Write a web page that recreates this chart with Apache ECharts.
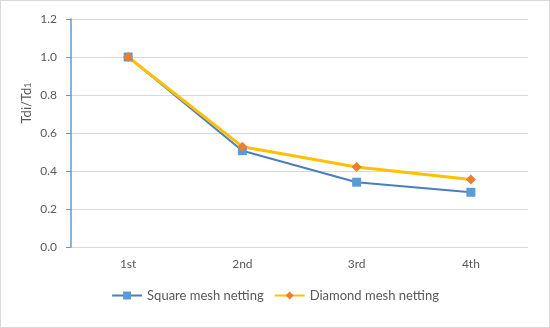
<!DOCTYPE html>
<html><head><meta charset="utf-8">
<script src="https://cdn.jsdelivr.net/npm/echarts@6/dist/echarts.min.js"></script>
<style>html,body{margin:0;padding:0;background:#fff}#c{width:548px;height:326px;border:1px solid #d9d9d9}</style>
</head><body><div id="c"></div>
<script>
const categories = ['1st', '2nd', '3rd', '4th'];
const squareMesh = [1.0, 0.507, 0.341, 0.288];
const diamondMesh = [1.0, 0.528, 0.421, 0.355];
const yTicks = [0, 0.2, 0.4, 0.6, 0.8, 1.0, 1.2];

const F = 'Lato';
const chart = echarts.init(document.getElementById('c'));
chart.setOption({
  animation: false,
  grid: { left: 70, right: 21, top: 18, bottom: 80 },
  legend: {
    bottom: 20, left: 'center', itemWidth: 30, itemHeight: 10, itemGap: 10,
    textStyle: { color: '#595959', fontSize: 13, fontFamily: F },
    data: ['Square mesh netting', 'Diamond mesh netting']
  },
  xAxis: {
    type: 'category', data: categories, boundaryGap: true,
    axisLine: { show: false }, axisTick: { show: false },
    axisLabel: { color: '#595959', fontSize: 12, fontFamily: F, margin: 11 }
  },
  yAxis: {
    type: 'value', min: yTicks[0], max: yTicks[yTicks.length - 1], interval: 0.2,
    name: '{a|Tdi/Td}{s|1}', nameLocation: 'middle', nameGap: 38, nameRotate: 90,
    nameMoveOverlap: false,
    nameTextStyle: { padding: [0, 0, 0, 60], rich: { a: { color: '#595959', fontSize: 13, fontFamily: F }, s: { color: '#595959', fontSize: 9, fontFamily: F, padding: [0, 0, -4, 0] } } },
    axisLine: { show: true, lineStyle: { color: '#5B9BD5', width: 1.5 } },
    axisTick: { show: true, length: 5, lineStyle: { color: '#5B9BD5' } },
    axisLabel: { color: '#595959', fontSize: 12, fontFamily: F, margin: 14, formatter: v => v.toFixed(1) },
    splitLine: { lineStyle: { color: '#d9d9d9', width: 1 } }
  },
  series: [
    { name: 'Square mesh netting', type: 'line', data: squareMesh, symbol: 'rect', symbolSize: 9,
      lineStyle: { color: '#4A7EC0', width: 2 }, itemStyle: { color: '#5B9BD5' } },
    { name: 'Diamond mesh netting', type: 'line', data: diamondMesh, symbol: 'diamond', symbolSize: 10,
      lineStyle: { color: '#FFC000', width: 3 }, itemStyle: { color: '#ED7D31' } }
  ]
});
</script></body></html>
